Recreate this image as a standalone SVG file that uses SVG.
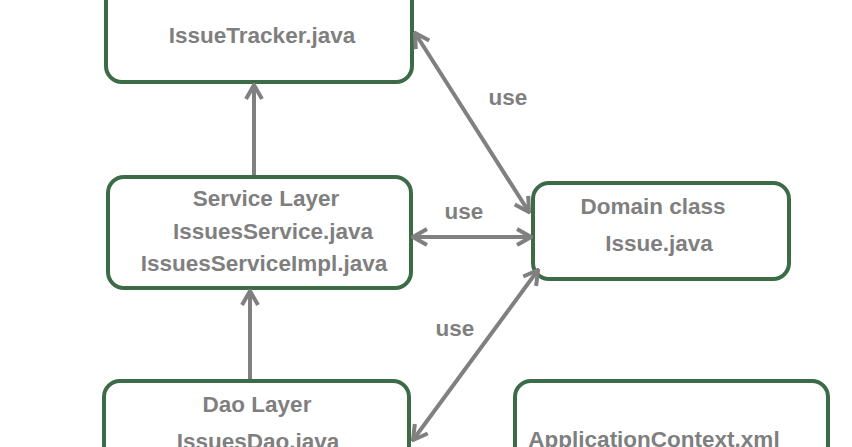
<svg xmlns="http://www.w3.org/2000/svg" width="852" height="447" viewBox="0 0 852 447">
<style>
.box{fill:#fff;stroke:#3b6b47;stroke-width:4}
text{font-family:"Liberation Sans",Arial,sans-serif;font-weight:bold;font-size:22.5px;fill:#7f7f7f;text-anchor:middle}
.c{stroke:#808080;stroke-width:4;fill:none}
</style>
<defs>
<marker id="a" viewBox="0 0 20 20" refX="18" refY="10" markerWidth="5" markerHeight="5" orient="auto-start-reverse" markerUnits="strokeWidth">
<path d="M4,2 L18,10 L4,18" fill="none" stroke="#808080" stroke-width="4"/>
</marker>
</defs>
<rect width="852" height="447" fill="#fff"/>
<g id="tracker"><rect class="box" x="106" y="-20" width="306" height="102" rx="16"/><text x="262" y="43">IssueTracker.java</text></g>
<g id="service"><rect class="box" x="108" y="177" width="303" height="111" rx="16"/><text x="266" y="206">Service Layer</text><text x="273" y="239">IssuesService.java</text><text x="264" y="271">IssuesServiceImpl.java</text></g>
<g id="domain"><rect class="box" x="533" y="183" width="256" height="96" rx="16"/><text x="653" y="214">Domain class</text><text x="659" y="251">Issue.java</text></g>
<g id="dao"><rect class="box" x="104" y="381" width="305" height="90" rx="16"/><text x="257" y="412">Dao Layer</text><text x="258" y="449">IssuesDao.java</text></g>
<g id="appctx"><rect class="box" x="515" y="381" width="313" height="90" rx="16"/><text x="654" y="447">ApplicationContext.xml</text></g>
<g id="connectors">
<line class="c" x1="254" y1="175" x2="254" y2="85" marker-end="url(#a)"/>
<line class="c" x1="250" y1="379" x2="250" y2="291" marker-end="url(#a)"/>
<line class="c" x1="415" y1="33" x2="529" y2="212" marker-start="url(#a)" marker-end="url(#a)"/>
<line class="c" x1="413" y1="237" x2="531" y2="237" marker-start="url(#a)" marker-end="url(#a)"/>
<line class="c" x1="538" y1="270" x2="413" y2="440" marker-start="url(#a)" marker-end="url(#a)"/>
<text x="508" y="105">use</text>
<text x="464" y="219">use</text>
<text x="455" y="336">use</text>
</g>
</svg>
